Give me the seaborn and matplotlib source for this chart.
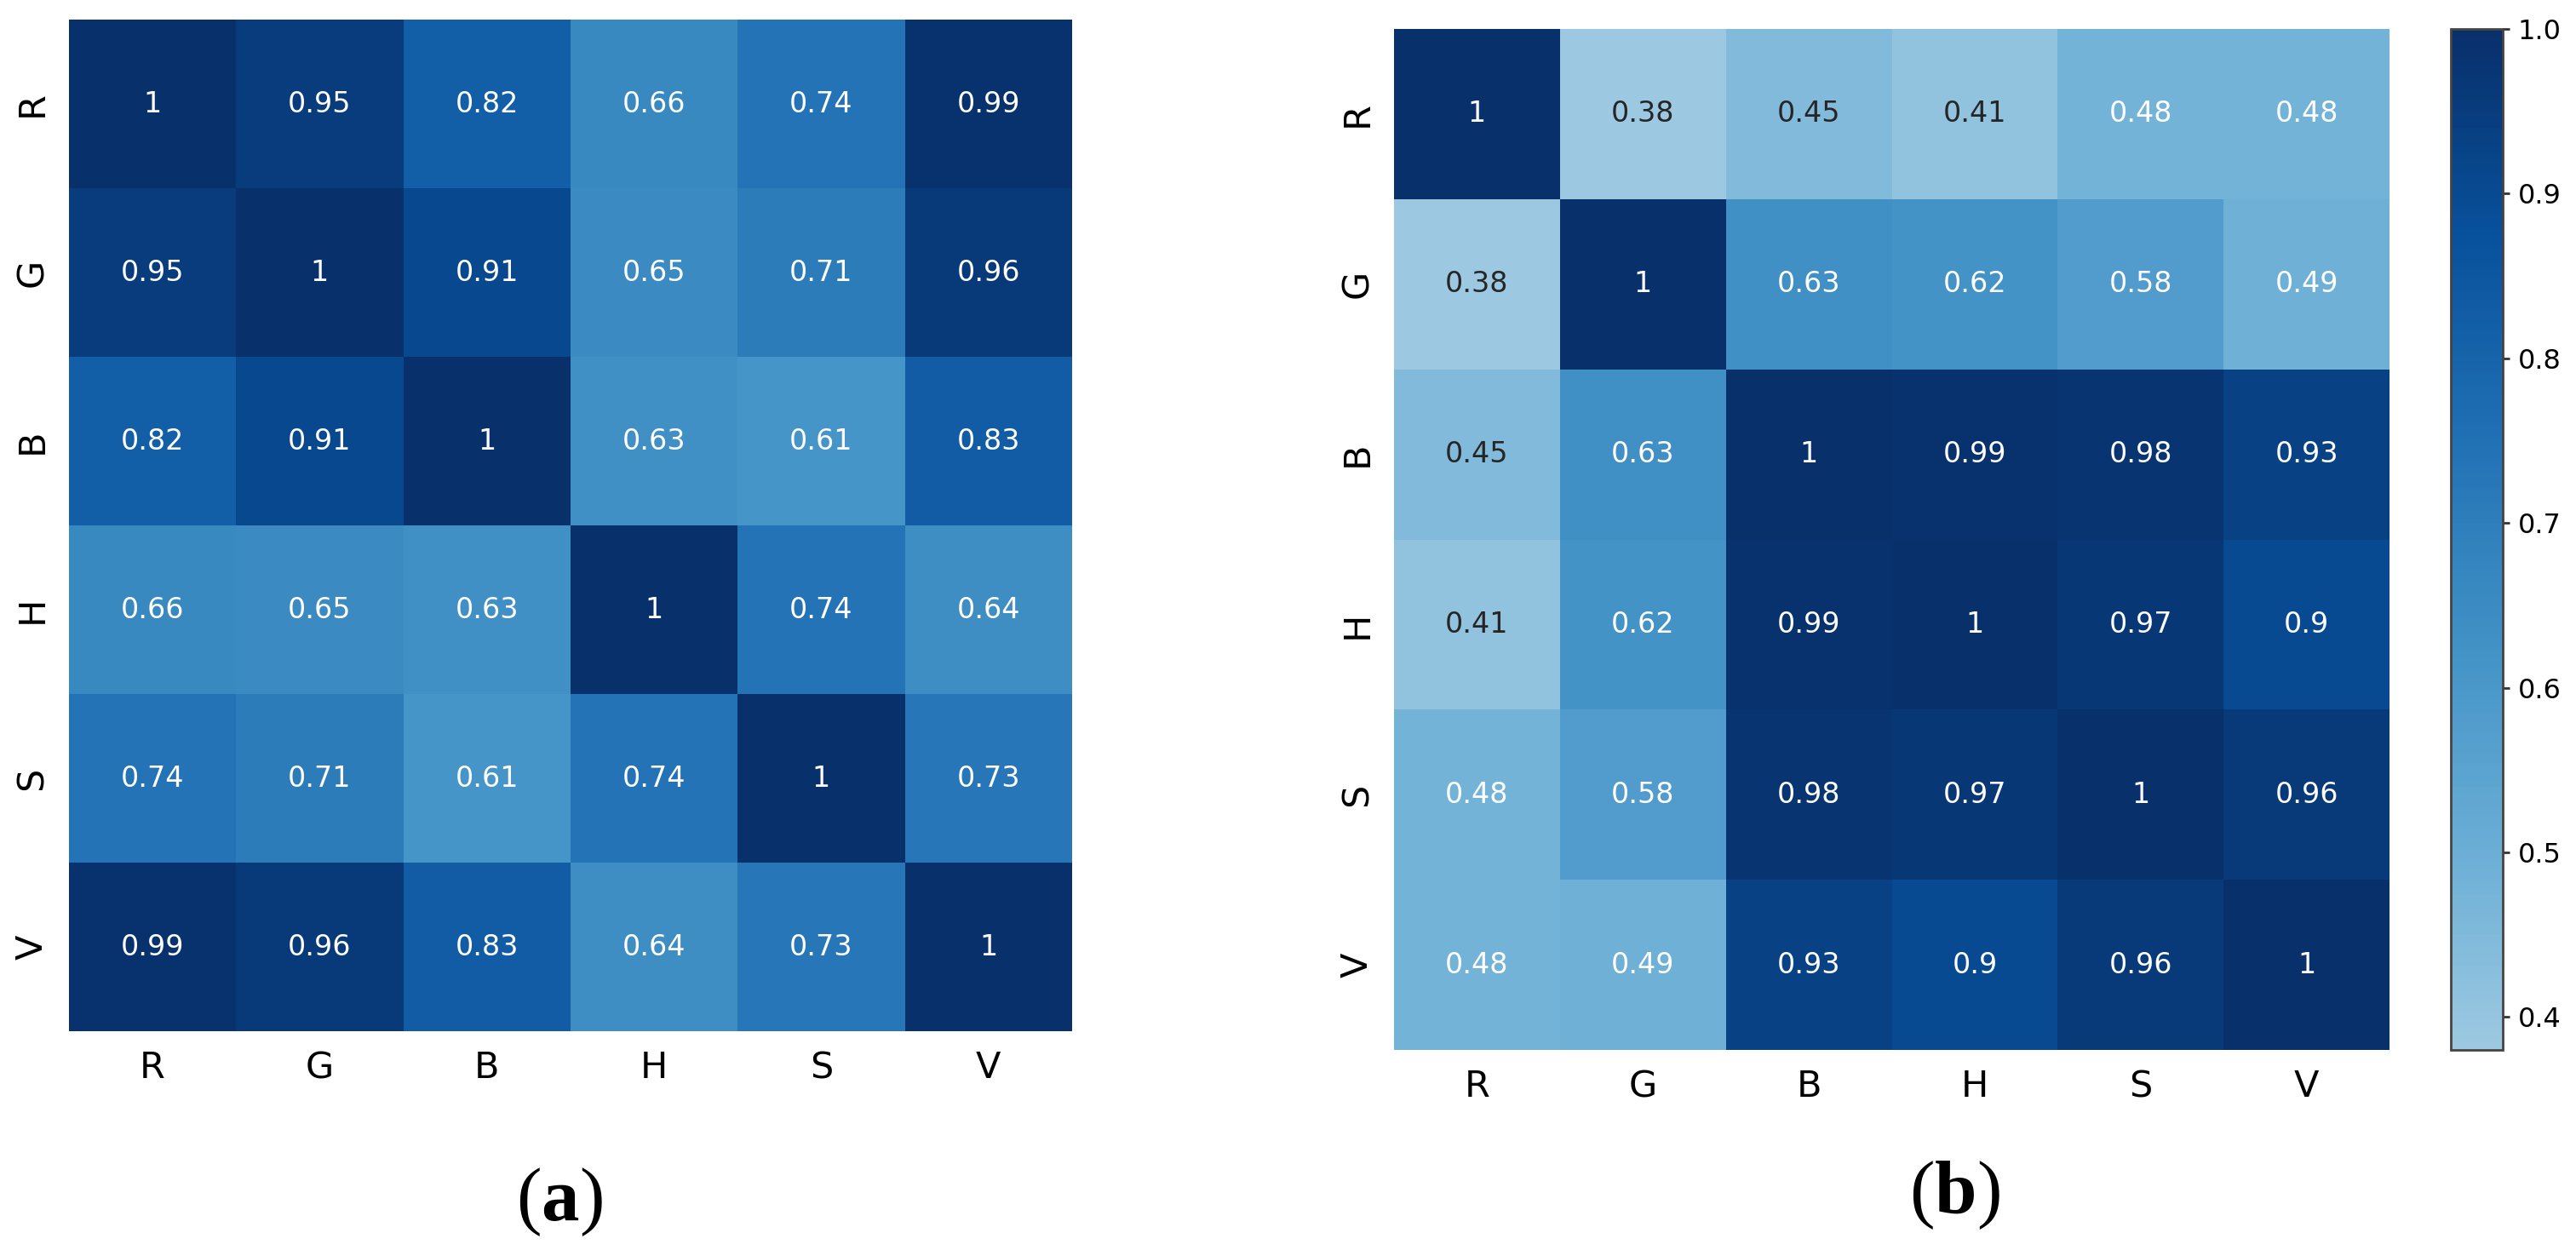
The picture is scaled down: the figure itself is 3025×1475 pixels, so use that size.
import numpy as np
import pandas as pd
import matplotlib
matplotlib.use("Agg")
import matplotlib.pyplot as plt
import seaborn as sns

labels = ["R", "G", "B", "H", "S", "V"]

corr_a = [
    [1.00, 0.95, 0.82, 0.66, 0.74, 0.99],
    [0.95, 1.00, 0.91, 0.65, 0.71, 0.96],
    [0.82, 0.91, 1.00, 0.63, 0.61, 0.83],
    [0.66, 0.65, 0.63, 1.00, 0.74, 0.64],
    [0.74, 0.71, 0.61, 0.74, 1.00, 0.73],
    [0.99, 0.96, 0.83, 0.64, 0.73, 1.00],
]

corr_b = [
    [1.00, 0.38, 0.45, 0.41, 0.48, 0.48],
    [0.38, 1.00, 0.63, 0.62, 0.58, 0.49],
    [0.45, 0.63, 1.00, 0.99, 0.98, 0.93],
    [0.41, 0.62, 0.99, 1.00, 0.97, 0.90],
    [0.48, 0.58, 0.98, 0.97, 1.00, 0.96],
    [0.48, 0.49, 0.93, 0.90, 0.96, 1.00],
]

captions = ["a", "b"]
cbar_ticks = [0.4, 0.5, 0.6, 0.7, 0.8, 0.9, 1.0]

sns.set_style("white")
plt.rcParams["font.family"] = ["DejaVu Sans"]
plt.rcParams["mathtext.fontset"] = "custom"
plt.rcParams["mathtext.rm"] = "Liberation Serif"
plt.rcParams["mathtext.bf"] = "Liberation Serif:bold"

df_a = pd.DataFrame(corr_a, index=labels, columns=labels)
df_b = pd.DataFrame(corr_b, index=labels, columns=labels)

fig = plt.figure(figsize=(15.125, 7.375), dpi=200)
W, H = 3025, 1475

def rect(x0, y0, x1, y1):
    return [x0 / W, 1 - y1 / H, (x1 - x0) / W, (y1 - y0) / H]

ax_a = fig.add_axes(rect(81, 23, 1259, 1211))
ax_b = fig.add_axes(rect(1637, 34, 2806, 1233))
cax = fig.add_axes(rect(2878, 34, 2939, 1233))

annot_kws = {"fontsize": 12}
sns.heatmap(df_a, ax=ax_a, cmap="Blues", center=0.5, annot=True,
            annot_kws=annot_kws, cbar=False)
sns.heatmap(df_b, ax=ax_b, cmap="Blues", center=0.5, annot=True,
            annot_kws=annot_kws, cbar_ax=cax)

# text contrast as in the reference: light text from 0.48 upward
for t in ax_b.texts:
    try:
        v = float(t.get_text())
    except ValueError:
        continue
    t.set_color("white" if v >= 0.475 else "#262626")

for ax in (ax_a, ax_b):
    ax.tick_params(axis="both", labelsize=15.5, length=3, width=1,
                   color="#333333", labelcolor="black", pad=5)
    for t in ax.get_yticklabels():
        t.set_rotation(90)
        t.set_va("center")

cax.set_yticks(cbar_ticks)
cax.set_yticklabels([f"{v:.1f}" for v in cbar_ticks])
cax.tick_params(labelsize=11.5, length=2.8, width=1, color="#333333",
                labelcolor="black", pad=3.5)
cb = ax_b.collections[0].colorbar
cb.outline.set_visible(True)
cb.outline.set_linewidth(1.0)
cb.outline.set_edgecolor("#444444")

fig.text(657 / W, 1 - 1412 / H, r"($\mathbf{%s}$)" % captions[0],
         family="Liberation Serif", fontsize=32, ha="center", va="center",
         color="black")
fig.text(2295 / W, 1 - 1404 / H, r"($\mathbf{%s}$)" % captions[1],
         family="Liberation Serif", fontsize=32, ha="center", va="center",
         color="black")

fig.savefig("out.png", dpi=200, facecolor="white")
